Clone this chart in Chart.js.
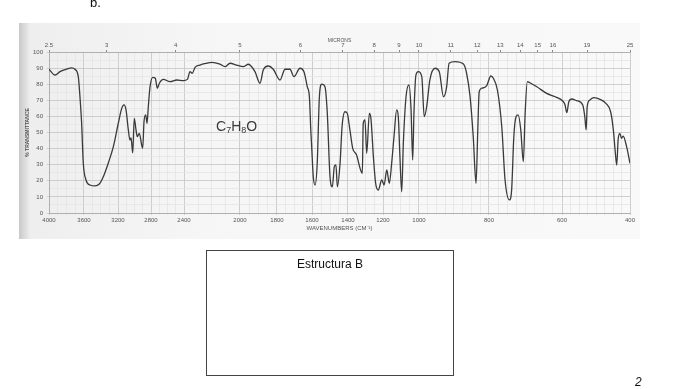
<!DOCTYPE html>
<html>
<head>
<meta charset="utf-8">
<script src="https://cdn.jsdelivr.net/npm/chart.js@4.4.1/dist/chart.umd.min.js"></script>
<style>
  html, body { margin: 0; padding: 0; background: #fff; }
  body { width: 691px; height: 389px; position: relative; overflow: hidden; font-family: "Liberation Sans", Arial, sans-serif; }
  #spectrum { position: absolute; left: 0; top: 0; }
  .label-b { position: absolute; left: 90px; top: -5px; font-size: 13px; color: #111; }
  .formula { position: absolute; left: 216px; top: 118px; font-size: 14px; color: #3a3a3a; }
  .formula sub { font-size: 9px; vertical-align: -2px; }
  .box { position: absolute; left: 206px; top: 250px; width: 246px; height: 124px; border: 1px solid #444; }
  .box-title { text-align: center; margin-top: 6px; font-size: 12px; color: #111; }
  .page-num { position: absolute; left: 635px; top: 375px; font-size: 12px; font-style: italic; color: #111; }
</style>
</head>
<body>
<canvas id="spectrum" width="691" height="389"></canvas>
<div class="label-b">b.</div>
<div class="formula">C<sub>7</sub>H<sub>8</sub>O</div>
<div class="box"><div class="box-title">Estructura B</div></div>
<div class="page-num">2</div>
<script>
const wavenumbers = [
  4000, 3931, 3874, 3798, 3741, 3703, 3665, 3646, 3627, 3608, 3576, 3529, 3471, 3420, 3373, 3314, 3255,
  3196, 3155, 3127, 3103, 3075, 3055, 3042, 3022, 3003, 2982, 2966, 2942, 2913, 2901, 2885, 2864, 2848,
  2833, 2812, 2779, 2748, 2724, 2699, 2651, 2570, 2488, 2408, 2376, 2357, 2341, 2321, 2286, 2238, 2202,
  2143, 2107, 2071, 2024, 1982, 1955, 1919, 1892, 1874, 1847, 1820, 1783, 1754, 1726, 1703, 1669, 1646,
  1627, 1615, 1607, 1602, 1593, 1583, 1571, 1559, 1546, 1528, 1515, 1500, 1487, 1476, 1467, 1459, 1444,
  1433, 1417, 1404, 1389, 1373, 1351, 1328, 1318, 1313, 1303, 1293, 1278, 1269, 1255, 1242, 1227, 1207,
  1194, 1179, 1165, 1152, 1139, 1124, 1115, 1106, 1096, 1087, 1072, 1056, 1044, 1035, 1028, 1017, 1004,
  992, 985, 978, 969, 954, 942, 930, 921, 914, 897, 873, 864, 854, 845, 837, 832, 828, 821, 807, 795,
  788, 777, 765, 756, 744, 738, 732, 726, 720, 713, 706, 701, 695, 688, 669, 642, 619, 598, 591, 586,
  580, 571, 557, 539, 533, 529, 526, 518, 506, 488, 471, 457, 449, 443, 439, 435, 430, 425, 420, 410, 400
];
const transmittance = [
  89.3, 85.7, 87.8, 89.3, 90.2, 89.3, 84.7, 72.2, 55.9, 31.1, 20.5, 17.4, 16.8, 18.0, 22.5, 31.1, 41.2,
  55.9, 65.0, 67.1, 64.0, 51.6, 45.3, 46.6, 37.3, 58.8, 51.6, 47.4, 49.5, 42.2, 40.2, 56.7, 60.9, 55.7,
  66.0, 78.4, 84.3, 83.7, 77.5, 80.6, 83.0, 81.6, 82.6, 82.2, 83.0, 87.8, 86.8, 90.5, 91.9, 93.0, 93.6,
  92.5, 90.9, 93.0, 91.9, 90.9, 92.4, 87.8, 80.6, 88.8, 91.3, 89.3, 82.6, 89.3, 89.3, 84.7, 89.9, 87.8,
  78.4, 72.2, 51.6, 41.2, 22.5, 17.4, 30.9, 72.2, 80.1, 78.4, 61.9, 22.5, 16.3, 28.8, 29.8, 16.3, 30.9,
  53.6, 62.9, 61.9, 51.6, 40.2, 36.0, 26.7, 24.7, 55.7, 57.8, 37.1, 61.9, 58.8, 35.0, 18.4, 14.3, 20.5,
  17.4, 26.7, 18.4, 30.9, 47.4, 64.0, 59.8, 35.0, 13.2, 43.3, 72.2, 79.5, 64.0, 32.9, 61.9, 85.7, 87.8,
  84.7, 59.8, 66.0, 82.6, 89.9, 87.8, 72.2, 78.4, 93.0, 94.0, 92.5, 86.8, 72.2, 47.4, 18.4, 51.6, 75.3, 77.5, 78.9, 85.1,
  83.7, 76.4, 53.6, 20.5, 8.1, 14.3, 47.4, 59.8, 60.9, 51.6, 31.9, 61.9, 81.6, 80.9, 78.4, 74.3, 72.2, 69.6, 67.1, 62.3,
  69.1, 70.8, 69.8, 67.1, 59.8, 51.6, 66.0, 70.2, 71.6, 70.6, 68.1, 62.9, 51.6, 37.1, 29.8, 45.3, 49.5, 46.4, 47.8, 41.2, 30.9
];
const wavenumberLabels = [4000, 3600, 3200, 2800, 2400, 2000, 1800, 1600, 1400, 1200, 1000, 800, 600, 400];
const micronLabels = [2.5, 3, 4, 5, 6, 7, 8, 9, 10, 11, 12, 13, 14, 15, 16, 19, 25];
const transmittanceLabels = [0, 10, 20, 30, 40, 50, 60, 70, 80, 90, 100];

// the printed chart paper changes scale several times along the x axis
const paperScale = [
  [4000, 0], [3600, 0.0602], [3200, 0.1188], [2800, 0.1756], [2400, 0.2324], [2000, 0.3287],
  [1800, 0.3924], [1600, 0.4527], [1400, 0.5146], [1200, 0.5749], [1000, 0.6368],
  [800, 0.7573], [600, 0.8830], [400, 1]
];

function wnToFrac(v) {
  for (let i = 0; i < paperScale.length - 1; i++) {
    const a = paperScale[i], b = paperScale[i + 1];
    if (v <= a[0] && v >= b[0] || i === paperScale.length - 2) {
      return a[1] + (a[0] - v) / (a[0] - b[0]) * (b[1] - a[1]);
    }
  }
  return 0;
}

function fracToWn(f) {
  for (let i = 0; i < paperScale.length - 1; i++) {
    const a = paperScale[i], b = paperScale[i + 1];
    if (f >= a[1] && f <= b[1] || i === paperScale.length - 2) {
      return a[0] - (f - a[1]) / (b[1] - a[1]) * (a[0] - b[0]);
    }
  }
  return 4000;
}

class PaperScale extends Chart.LinearScale {
  getPixelForValue(value) {
    if (value === null || isNaN(value)) return NaN;
    return this.left + wnToFrac(value) * this.width;
  }
  getValueForPixel(pixel) {
    return fracToWn((pixel - this.left) / this.width);
  }
}
PaperScale.id = 'paper';
PaperScale.defaults = Chart.LinearScale.defaults;
Chart.register(PaperScale);

function gridTicks() {
  const t = [];
  for (let v = 4000; v > 2000; v -= 100) t.push(v);
  for (let v = 2000; v > 1000; v -= 50) t.push(v);
  for (let v = 1000; v >= 400; v -= 25) t.push(v);
  return t;
}

const scanPaper = {
  id: 'scanPaper',
  beforeDraw(chart) {
    const c = chart.ctx;
    c.save();
    const g = c.createLinearGradient(19, 0, 640, 0);
    g.addColorStop(0, '#c8c8c8');
    g.addColorStop(0.018, '#eeeeee');
    g.addColorStop(0.3, '#f6f6f6');
    g.addColorStop(1, '#f9f9f9');
    c.fillStyle = g;
    c.fillRect(19, 23, 621, 216);
    c.restore();
  }
};

const tickFont = { family: '"Liberation Sans", Arial, sans-serif', size: 6 };
const inkGray = '#555';

new Chart(document.getElementById('spectrum'), {
  type: 'line',
  data: {
    datasets: [{
      data: wavenumbers.map((w, i) => ({ x: w, y: transmittance[i] })),
      borderColor: '#3a3a3a',
      borderWidth: 1.3,
      pointRadius: 0,
      cubicInterpolationMode: 'monotone',
      fill: false,
    }],
  },
  plugins: [scanPaper],
  options: {
    responsive: false,
    animation: false,
    devicePixelRatio: 1,
    layout: { padding: { left: 0, top: 0, right: 61, bottom: 146 } },
    plugins: {
      legend: { display: false },
      tooltip: { enabled: false },
    },
    scales: {
      x: {
        type: 'paper',
        position: 'bottom',
        min: 400,
        max: 4000,
        afterBuildTicks: axis => { axis.ticks = gridTicks().map(v => ({ value: v })); },
        afterFit: axis => { axis.height = 30; },
        ticks: {
          autoSkip: false,
          maxRotation: 0,
          padding: 2,
          font: tickFont,
          color: inkGray,
          callback: v => wavenumberLabels.includes(v) ? String(v) : '',
        },
        grid: {
          tickLength: 2,
          lineWidth: 0.8,
          color: ctx => ctx.tick && wavenumberLabels.includes(ctx.tick.value) ? '#c4c4c4' : '#e4e4e4',
        },
        border: { color: '#b0b0b0' },
        title: {
          display: true,
          text: 'WAVENUMBERS (CM⁻¹)',
          font: tickFont,
          color: inkGray,
          padding: { top: 0, bottom: 11 },
        },
      },
      x2: {
        type: 'paper',
        position: 'top',
        min: 400,
        max: 4000,
        afterBuildTicks: axis => { axis.ticks = micronLabels.map(m => ({ value: 10000 / m })); },
        afterFit: axis => { axis.height = 52; },
        ticks: {
          autoSkip: false,
          maxRotation: 0,
          padding: 1,
          font: tickFont,
          color: inkGray,
          callback: (v, i) => String(micronLabels[i]),
        },
        grid: { drawOnChartArea: false, tickLength: 2, color: '#888' },
        border: { color: '#b0b0b0' },
        title: {
          display: true,
          text: 'MICRONS',
          font: { family: tickFont.family, size: 5 },
          color: inkGray,
          padding: { top: 38, bottom: 0 },
        },
      },
      y: {
        min: 0,
        max: 100,
        afterBuildTicks: axis => {
          const t = [];
          for (let v = 0; v <= 100; v += 5) t.push({ value: v });
          axis.ticks = t;
        },
        afterFit: axis => { axis.width = 49; },
        ticks: {
          autoSkip: false,
          padding: 4,
          font: tickFont,
          color: inkGray,
          callback: v => transmittanceLabels.includes(v) ? String(v) : '',
        },
        grid: {
          tickLength: 2,
          lineWidth: 0.8,
          color: ctx => ctx.tick && ctx.tick.value % 10 === 0 ? '#c4c4c4' : '#e4e4e4',
        },
        border: { color: '#b0b0b0' },
        title: {
          display: true,
          text: '% TRANSMITTANCE',
          font: { family: tickFont.family, size: 5, weight: 'bold' },
          color: inkGray,
          padding: { top: 25, bottom: 0 },
        },
      },
    },
  },
});
</script>
</body>
</html>
